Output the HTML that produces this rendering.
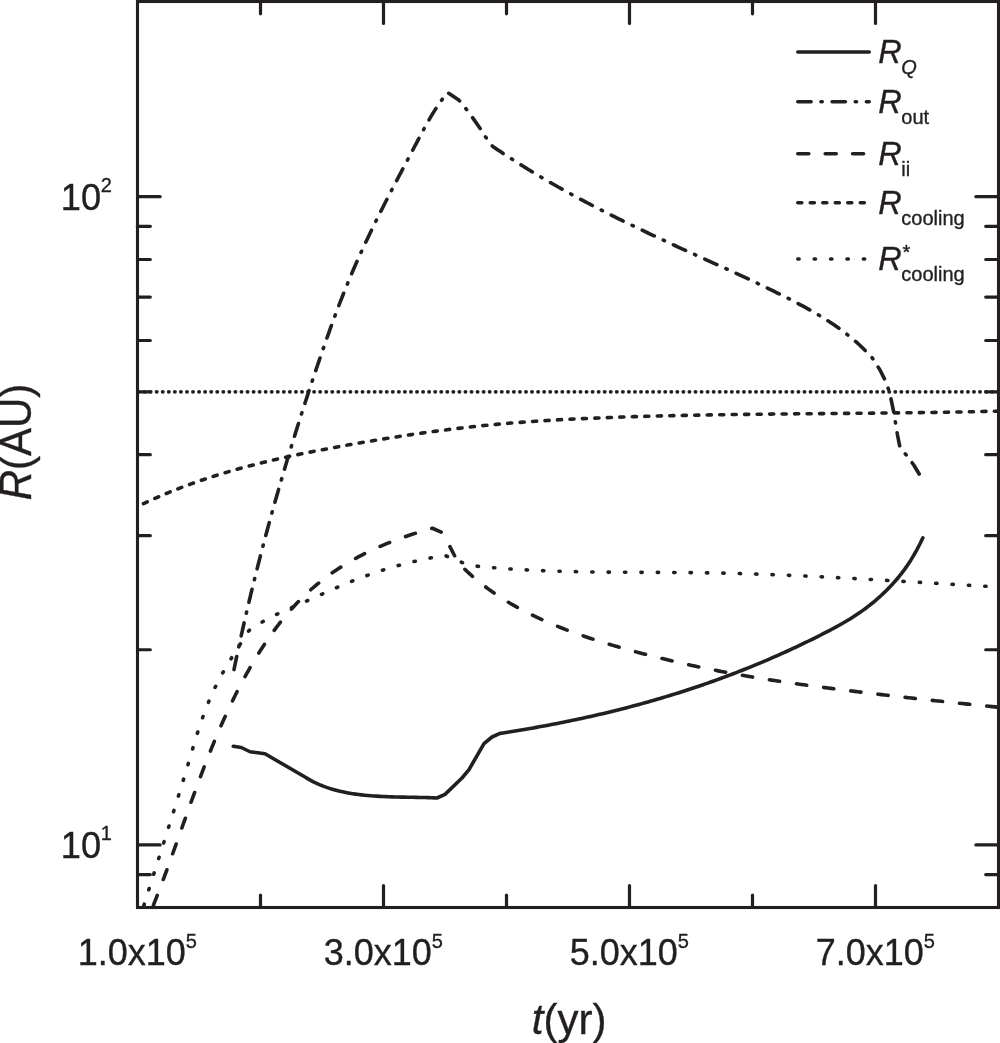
<!DOCTYPE html>
<html><head><meta charset="utf-8"><title>R(AU) vs t(yr)</title>
<style>
html,body{margin:0;padding:0;background:#fff;}
body{width:1000px;height:1043px;overflow:hidden;}
svg{display:block;}
text{font-family:"Liberation Sans",sans-serif;fill:#231f20;stroke:#231f20;stroke-width:0.35px;stroke-linejoin:round;}
.it{font-style:italic;}
.c{fill:none;stroke:#231f20;stroke-width:3.6;stroke-linecap:round;stroke-linejoin:round;}
.ax{fill:none;stroke:#231f20;stroke-width:3.2;stroke-linecap:round;}
.fr{fill:none;stroke:#231f20;stroke-width:3.1;stroke-linejoin:miter;}
</style></head><body>
<svg width="1000" height="1043" viewBox="0 0 1000 1043">
<rect x="0" y="0" width="1000" height="1043" fill="#fff"/>
<defs><clipPath id="cp"><rect x="137.5" y="1.5" width="861.0" height="906.0"/></clipPath></defs>

<g class="ax">
<line x1="260.5" y1="907.5" x2="260.5" y2="895.2"/>
<line x1="260.5" y1="1.5" x2="260.5" y2="13.8"/>
<line x1="383.5" y1="907.5" x2="383.5" y2="885.5"/>
<line x1="383.5" y1="1.5" x2="383.5" y2="23.5"/>
<line x1="506.5" y1="907.5" x2="506.5" y2="895.2"/>
<line x1="506.5" y1="1.5" x2="506.5" y2="13.8"/>
<line x1="629.5" y1="907.5" x2="629.5" y2="885.5"/>
<line x1="629.5" y1="1.5" x2="629.5" y2="23.5"/>
<line x1="752.5" y1="907.5" x2="752.5" y2="895.2"/>
<line x1="752.5" y1="1.5" x2="752.5" y2="13.8"/>
<line x1="875.5" y1="907.5" x2="875.5" y2="885.5"/>
<line x1="875.5" y1="1.5" x2="875.5" y2="23.5"/>
<line x1="137.5" y1="874.56" x2="150.3" y2="874.56"/>
<line x1="998.5" y1="874.56" x2="985.7" y2="874.56"/>
<line x1="137.5" y1="844.90" x2="160.1" y2="844.90"/>
<line x1="998.5" y1="844.90" x2="975.9" y2="844.90"/>
<line x1="137.5" y1="649.77" x2="150.3" y2="649.77"/>
<line x1="998.5" y1="649.77" x2="985.7" y2="649.77"/>
<line x1="137.5" y1="535.63" x2="150.3" y2="535.63"/>
<line x1="998.5" y1="535.63" x2="985.7" y2="535.63"/>
<line x1="137.5" y1="454.64" x2="150.3" y2="454.64"/>
<line x1="998.5" y1="454.64" x2="985.7" y2="454.64"/>
<line x1="137.5" y1="391.83" x2="150.3" y2="391.83"/>
<line x1="998.5" y1="391.83" x2="985.7" y2="391.83"/>
<line x1="137.5" y1="340.50" x2="150.3" y2="340.50"/>
<line x1="998.5" y1="340.50" x2="985.7" y2="340.50"/>
<line x1="137.5" y1="297.11" x2="150.3" y2="297.11"/>
<line x1="998.5" y1="297.11" x2="985.7" y2="297.11"/>
<line x1="137.5" y1="259.52" x2="150.3" y2="259.52"/>
<line x1="998.5" y1="259.52" x2="985.7" y2="259.52"/>
<line x1="137.5" y1="226.36" x2="150.3" y2="226.36"/>
<line x1="998.5" y1="226.36" x2="985.7" y2="226.36"/>
<line x1="137.5" y1="196.70" x2="160.1" y2="196.70"/>
<line x1="998.5" y1="196.70" x2="975.9" y2="196.70"/>
</g>
<g clip-path="url(#cp)">
<line class="c" style="stroke-width:3.9" x1="137.5" y1="391.83" x2="998.5" y2="391.83" stroke-dasharray="0.1 5.954" stroke-dashoffset="-0.99"/>
<polyline class="c" points="137.99,506.30 140.75,504.96 143.51,503.64 146.28,502.33 149.05,501.05 151.82,499.79 154.60,498.54 157.38,497.31 160.17,496.10 162.95,494.91 165.75,493.73 168.54,492.58 171.34,491.44 174.15,490.31 176.96,489.21 179.77,488.12 182.58,487.04 185.40,485.98 188.22,484.94 191.05,483.91 193.88,482.90 196.71,481.90 199.54,480.92 202.38,479.95 205.22,479.00 208.07,478.06 210.91,477.13 213.76,476.22 216.62,475.32 219.48,474.44 222.33,473.56 225.20,472.71 228.06,471.86 230.93,471.02 233.80,470.20 236.68,469.39 239.55,468.59 242.43,467.80 245.31,467.03 248.20,466.26 251.08,465.50 253.97,464.76 256.86,464.03 259.76,463.30 262.65,462.59 265.55,461.88 268.45,461.18 271.36,460.50 274.26,459.82 277.17,459.15 280.08,458.49 282.99,457.84 285.91,457.19 288.82,456.56 291.74,455.93 294.66,455.30 297.58,454.69 300.50,454.08 303.43,453.48 306.36,452.88 309.28,452.30 312.21,451.71 315.15,451.13 318.08,450.56 321.01,450.00 323.95,449.43 326.89,448.88 329.83,448.33 332.77,447.78 335.71,447.23 338.65,446.69 341.60,446.16 344.54,445.62 347.49,445.09 350.44,444.57 353.39,444.05 356.34,443.53 359.29,443.01 362.24,442.50 365.19,441.99 368.15,441.49 371.10,440.99 374.06,440.49 377.02,440.00 379.98,439.51 382.94,439.03 385.90,438.55 388.86,438.07 391.82,437.60 394.79,437.14 397.75,436.67 400.72,436.22 403.69,435.76 406.65,435.32 409.62,434.87 412.59,434.43 415.56,434.00 418.54,433.57 421.51,433.15 424.48,432.73 427.46,432.32 430.43,431.91 433.41,431.50 436.39,431.11 439.37,430.71 442.35,430.33 445.33,429.95 448.31,429.57 451.29,429.20 454.27,428.83 457.25,428.48 460.24,428.12 463.22,427.78 466.21,427.43 469.20,427.10 472.18,426.77 475.17,426.45 478.16,426.13 481.15,425.82 484.14,425.52 487.13,425.22 490.12,424.93 493.11,424.64 496.11,424.36 499.10,424.09 502.10,423.82 505.09,423.56 508.09,423.31 511.08,423.06 514.08,422.82 517.08,422.58 520.08,422.35 523.07,422.13 526.07,421.91 529.07,421.69 532.08,421.48 535.08,421.28 538.08,421.08 541.08,420.88 544.08,420.69 547.09,420.51 550.09,420.32 553.09,420.15 556.10,419.97 559.11,419.81 562.11,419.64 565.12,419.48 568.12,419.33 571.13,419.17 574.14,419.02 577.15,418.88 580.16,418.74 583.16,418.60 586.17,418.46 589.18,418.33 592.19,418.20 595.20,418.08 598.22,417.96 601.23,417.83 604.24,417.72 607.25,417.60 610.26,417.49 613.27,417.38 616.29,417.27 619.30,417.17 622.31,417.06 625.33,416.96 628.34,416.86 631.36,416.77 634.37,416.67 637.38,416.58 640.40,416.49 643.41,416.40 646.43,416.31 649.45,416.23 652.46,416.15 655.48,416.07 658.49,415.99 661.51,415.91 664.53,415.84 667.54,415.76 670.56,415.69 673.58,415.62 676.59,415.55 679.61,415.49 682.63,415.42 685.64,415.36 688.66,415.30 691.68,415.24 694.70,415.18 697.71,415.12 700.73,415.06 703.75,415.01 706.77,414.96 709.78,414.90 712.80,414.85 715.82,414.80 718.83,414.76 721.85,414.71 724.87,414.66 727.89,414.62 730.90,414.57 733.92,414.53 736.94,414.49 739.95,414.45 742.97,414.41 745.99,414.37 749.00,414.33 752.02,414.30 755.04,414.26 758.05,414.23 761.07,414.19 764.09,414.16 767.10,414.12 770.12,414.09 773.13,414.06 776.15,414.03 779.16,414.00 782.18,413.97 785.19,413.94 788.21,413.91 791.22,413.88 794.23,413.85 797.25,413.82 800.26,413.80 803.27,413.77 806.28,413.74 809.30,413.72 812.31,413.69 815.32,413.66 818.33,413.64 821.34,413.61 824.35,413.58 827.36,413.56 830.37,413.53 833.38,413.51 836.39,413.48 839.40,413.45 842.41,413.43 845.41,413.40 848.42,413.38 851.43,413.35 854.43,413.32 857.44,413.29 860.44,413.27 863.45,413.24 866.45,413.21 869.46,413.18 872.46,413.15 875.46,413.12 878.47,413.09 881.47,413.06 884.47,413.03 887.47,413.00 890.47,412.97 893.47,412.93 896.47,412.90 899.46,412.87 902.46,412.83 905.46,412.79 908.46,412.76 911.45,412.72 914.45,412.68 917.44,412.64 920.43,412.60 923.43,412.56 926.42,412.52 929.41,412.47 932.40,412.43 935.39,412.38 938.38,412.33 941.37,412.29 944.36,412.24 947.34,412.19 950.33,412.13 953.32,412.08 956.30,412.03 959.28,411.97 962.27,411.91 965.25,411.85 968.23,411.79 971.21,411.73 974.19,411.67 977.17,411.60 980.15,411.54 983.13,411.47 986.10,411.40 989.08,411.33 992.05,411.25 995.03,411.18 998.00,411.10" stroke-dasharray="4.1 8.385" stroke-dashoffset="-6.14"/>
<polyline class="c" points="143.20,907.50 144.08,904.69 144.96,901.88 145.85,899.06 146.74,896.24 147.63,893.41 148.53,890.57 149.43,887.73 150.33,884.89 151.24,882.04 152.14,879.19 153.05,876.33 153.96,873.47 154.87,870.60 155.79,867.73 156.70,864.86 157.62,861.98 158.53,859.11 159.45,856.22 160.37,853.34 161.29,850.45 162.21,847.57 163.13,844.67 164.05,841.78 164.97,838.89 165.89,835.99 166.80,833.09 167.72,830.19 168.64,827.29 169.56,824.39 170.47,821.49 171.38,818.59 172.30,815.69 173.21,812.79 174.11,809.89 175.02,806.99 175.93,804.08 176.83,801.18 177.73,798.29 178.62,795.39 179.52,792.49 180.41,789.60 181.30,786.70 182.18,783.81 183.06,780.92 183.94,778.04 184.81,775.15 185.68,772.27 186.55,769.39 187.41,766.51 188.27,763.64 189.12,760.77 189.97,757.91 190.81,755.04 191.66,752.18 192.51,749.33 193.36,746.48 194.21,743.64 195.07,740.80 195.94,737.96 196.82,735.13 197.71,732.30 198.62,729.48 199.53,726.67 200.47,723.86 201.42,721.06 202.39,718.26 203.38,715.48 204.40,712.69 205.43,709.92 206.50,707.15 207.59,704.39 208.71,701.63 209.86,698.89 211.05,696.15 212.27,693.42 213.52,690.69 214.81,687.98 216.14,685.27 217.51,682.57 218.91,679.89 220.35,677.21 221.81,674.54 223.30,671.88 224.82,669.23 226.35,666.58 227.91,663.95 229.49,661.33 231.07,658.72 232.68,656.12 234.29,653.53 235.90,650.96 237.53,648.39 239.15,645.83 240.78,643.29 242.40,640.76 244.01,638.24 245.62,635.73 247.22,633.23 248.80,630.75 251.39,628.87 253.99,627.07 256.59,625.36 259.20,623.72 261.82,622.16 264.45,620.66 267.08,619.22 269.72,617.82 272.37,616.47 275.02,615.16 277.68,613.88 280.35,612.63 283.02,611.40 285.70,610.18 288.39,608.98 291.08,607.79 293.78,606.60 296.49,605.42 299.20,604.24 301.92,603.06 304.65,601.87 307.38,600.68 310.12,599.47 312.86,598.25 315.61,597.02 318.37,595.79 321.13,594.55 323.90,593.31 326.68,592.07 329.46,590.84 332.25,589.60 335.04,588.38 337.84,587.16 340.64,585.95 343.45,584.76 346.27,583.57 349.09,582.41 351.91,581.26 354.74,580.13 357.58,579.03 360.42,577.94 363.27,576.87 366.13,575.83 368.98,574.80 371.85,573.79 374.72,572.81 377.59,571.84 380.47,570.90 383.36,569.97 386.24,569.07 389.14,568.19 392.04,567.32 394.94,566.48 397.85,565.66 400.76,564.87 403.68,564.09 406.60,563.33 409.53,562.60 412.46,561.89 415.40,561.20 418.34,560.53 421.29,559.88 424.23,559.26 427.19,558.65 430.15,558.07 433.11,557.51 436.08,556.98 439.05,556.46 442.02,555.97 445.00,555.50 462.00,562.50 477.50,566.25 480.50,566.55 483.51,566.83 486.51,567.11 489.52,567.37 492.52,567.63 495.53,567.88 498.53,568.11 501.54,568.34 504.54,568.56 507.55,568.77 510.55,568.98 513.56,569.17 516.57,569.36 519.57,569.54 522.58,569.71 525.59,569.87 528.59,570.03 531.60,570.18 534.61,570.32 537.61,570.45 540.62,570.58 543.63,570.71 546.63,570.82 549.64,570.93 552.65,571.04 555.66,571.14 558.67,571.23 561.67,571.32 564.68,571.40 567.69,571.48 570.70,571.55 573.71,571.62 576.72,571.68 579.72,571.74 582.73,571.80 585.74,571.85 588.75,571.90 591.76,571.94 594.77,571.99 597.78,572.02 600.79,572.06 603.80,572.09 606.81,572.12 609.82,572.15 612.83,572.17 615.84,572.20 618.84,572.22 621.85,572.24 624.86,572.26 627.87,572.27 630.88,572.29 633.89,572.30 636.91,572.32 639.92,572.33 642.93,572.34 645.94,572.36 648.95,572.37 651.96,572.38 654.97,572.39 657.98,572.41 660.99,572.42 664.00,572.43 667.01,572.45 670.02,572.47 673.03,572.49 676.04,572.51 679.05,572.53 682.06,572.55 685.08,572.58 688.09,572.60 691.10,572.63 694.11,572.67 697.12,572.70 700.13,572.74 703.14,572.78 706.15,572.83 709.16,572.88 712.18,572.93 715.19,572.99 718.20,573.04 721.21,573.11 724.22,573.17 727.23,573.24 730.24,573.31 733.25,573.39 736.27,573.47 739.28,573.55 742.29,573.64 745.30,573.72 748.31,573.82 751.32,573.91 754.33,574.01 757.34,574.11 760.35,574.21 763.37,574.31 766.38,574.42 769.39,574.53 772.40,574.65 775.41,574.76 778.42,574.88 781.43,575.00 784.44,575.12 787.45,575.25 790.46,575.38 793.48,575.51 796.49,575.64 799.50,575.77 802.51,575.91 805.52,576.05 808.53,576.19 811.54,576.33 814.55,576.47 817.56,576.62 820.57,576.77 823.58,576.92 826.59,577.07 829.60,577.22 832.61,577.38 835.62,577.53 838.63,577.69 841.64,577.85 844.65,578.01 847.66,578.17 850.67,578.34 853.68,578.50 856.69,578.67 859.70,578.84 862.71,579.00 865.72,579.17 868.73,579.34 871.73,579.52 874.74,579.69 877.75,579.86 880.76,580.04 883.77,580.21 886.78,580.39 889.79,580.56 892.79,580.74 895.80,580.92 898.81,581.10 901.82,581.28 904.83,581.46 907.83,581.64 910.84,581.82 913.85,582.00 916.86,582.18 919.86,582.36 922.87,582.54 925.88,582.72 928.88,582.90 931.89,583.09 934.90,583.27 937.90,583.45 940.91,583.63 943.92,583.81 946.92,583.99 949.93,584.18 952.93,584.36 955.94,584.54 958.94,584.72 961.95,584.90 964.96,585.08 967.96,585.25 970.96,585.43 973.97,585.61 976.97,585.79 979.98,585.96 982.98,586.14 985.99,586.31 988.99,586.49 991.99,586.66 995.00,586.83 998.00,587.00" stroke-dasharray="1.3 15.09" stroke-dashoffset="-2.17"/>
<polyline class="c" points="152.50,907.50 153.61,904.71 154.71,901.92 155.81,899.12 156.90,896.32 157.98,893.52 159.05,890.72 160.12,887.91 161.18,885.10 162.24,882.29 163.29,879.48 164.34,876.66 165.38,873.85 166.42,871.03 167.45,868.21 168.48,865.38 169.51,862.56 170.53,859.73 171.55,856.91 172.57,854.08 173.58,851.25 174.60,848.42 175.61,845.59 176.61,842.76 177.62,839.93 178.63,837.09 179.64,834.26 180.64,831.43 181.65,828.59 182.65,825.76 183.66,822.93 184.67,820.10 185.68,817.26 186.68,814.43 187.70,811.60 188.71,808.77 189.72,805.94 190.74,803.11 191.76,800.29 192.79,797.46 193.81,794.63 194.85,791.81 195.88,788.99 196.92,786.17 197.96,783.35 199.01,780.53 200.07,777.72 201.13,774.91 202.19,772.10 203.26,769.29 204.34,766.48 205.42,763.68 206.51,760.88 207.61,758.08 208.72,755.29 209.83,752.50 210.95,749.71 212.08,746.93 213.22,744.14 214.37,741.37 215.52,738.59 216.69,735.82 217.86,733.06 219.05,730.29 220.25,727.54 221.45,724.78 222.67,722.03 223.90,719.29 225.14,716.55 226.39,713.81 227.66,711.08 228.93,708.36 230.22,705.64 231.53,702.92 232.84,700.21 234.17,697.50 235.51,694.81 236.87,692.11 238.24,689.42 239.63,686.74 241.03,684.07 242.45,681.40 243.88,678.73 245.33,676.08 246.79,673.43 248.28,670.78 249.77,668.15 251.29,665.52 252.82,662.91 254.37,660.30 255.94,657.71 257.52,655.12 259.13,652.55 260.75,649.99 262.39,647.45 264.05,644.92 265.73,642.40 267.43,639.90 269.14,637.42 270.88,634.95 272.64,632.51 274.42,630.08 276.22,627.67 278.04,625.28 279.88,622.91 281.75,620.56 283.63,618.23 285.54,615.93 287.47,613.65 289.42,611.39 291.40,609.15 293.40,606.94 295.42,604.76 297.47,602.60 299.54,600.46 301.63,598.36 303.75,596.28 305.89,594.22 308.06,592.20 310.25,590.20 312.47,588.23 314.72,586.29 316.99,584.38 319.28,582.50 321.61,580.65 323.96,578.83 326.33,577.05 328.73,575.29 331.15,573.56 333.60,571.86 336.07,570.19 338.56,568.55 341.08,566.94 343.61,565.36 346.17,563.81 348.75,562.28 351.35,560.78 353.96,559.31 356.59,557.87 359.25,556.45 361.92,555.06 364.60,553.70 367.30,552.36 370.02,551.05 372.75,549.76 375.50,548.50 378.26,547.27 381.03,546.06 383.81,544.87 386.61,543.71 389.42,542.57 392.24,541.46 395.07,540.37 397.91,539.31 400.76,538.26 403.61,537.25 406.48,536.25 409.35,535.27 412.22,534.32 415.11,533.39 418.00,532.48 420.89,531.60 423.79,530.73 426.69,529.88 429.60,529.06 432.50,528.25 442.00,532.50 449.50,545.75 455.50,557.50 463.00,567.50 465.21,569.65 467.45,571.76 469.71,573.83 471.99,575.86 474.29,577.85 476.61,579.81 478.94,581.73 481.30,583.62 483.67,585.47 486.06,587.28 488.47,589.07 490.89,590.82 493.33,592.53 495.79,594.22 498.26,595.87 500.75,597.50 503.26,599.09 505.78,600.66 508.31,602.19 510.87,603.70 513.43,605.18 516.01,606.64 518.60,608.07 521.21,609.48 523.83,610.86 526.46,612.22 529.11,613.55 531.77,614.86 534.44,616.15 537.12,617.42 539.82,618.67 542.52,619.90 545.24,621.11 547.97,622.30 550.70,623.48 553.45,624.63 556.21,625.77 558.97,626.89 561.75,627.99 564.54,629.08 567.33,630.15 570.13,631.20 572.94,632.24 575.76,633.27 578.58,634.28 581.42,635.27 584.26,636.25 587.10,637.22 589.95,638.17 592.81,639.11 595.68,640.04 598.54,640.95 601.42,641.86 604.30,642.75 607.18,643.63 610.07,644.50 612.96,645.36 615.86,646.20 618.75,647.04 621.66,647.87 624.56,648.69 627.47,649.50 630.38,650.30 633.29,651.10 636.20,651.88 639.11,652.66 642.03,653.43 644.95,654.20 647.87,654.95 650.78,655.70 653.71,656.44 656.63,657.18 659.55,657.90 662.48,658.62 665.40,659.33 668.33,660.04 671.26,660.73 674.19,661.42 677.12,662.10 680.05,662.78 682.99,663.44 685.92,664.10 688.86,664.75 691.79,665.40 694.73,666.04 697.67,666.67 700.61,667.29 703.56,667.90 706.50,668.51 709.44,669.11 712.39,669.71 715.33,670.29 718.28,670.87 721.23,671.44 724.18,672.01 727.13,672.57 730.08,673.12 733.03,673.66 735.98,674.20 738.94,674.72 741.89,675.25 744.85,675.76 747.81,676.27 750.76,676.77 753.72,677.27 756.68,677.75 759.64,678.24 762.60,678.71 765.57,679.18 768.53,679.65 771.49,680.10 774.46,680.56 777.42,681.00 780.39,681.45 783.35,681.89 786.32,682.32 789.29,682.75 792.26,683.17 795.23,683.59 798.20,684.01 801.17,684.42 804.14,684.83 807.11,685.24 810.08,685.64 813.06,686.04 816.03,686.43 819.01,686.83 821.98,687.22 824.96,687.60 827.93,687.99 830.91,688.37 833.89,688.76 836.86,689.14 839.84,689.51 842.82,689.89 845.80,690.26 848.78,690.64 851.76,691.01 854.74,691.37 857.72,691.74 860.70,692.11 863.68,692.47 866.66,692.83 869.65,693.19 872.63,693.55 875.61,693.90 878.59,694.26 881.58,694.61 884.56,694.96 887.55,695.31 890.53,695.66 893.51,696.00 896.50,696.35 899.48,696.69 902.47,697.03 905.45,697.37 908.44,697.71 911.42,698.05 914.41,698.38 917.39,698.71 920.38,699.05 923.37,699.38 926.35,699.70 929.34,700.03 932.32,700.36 935.31,700.68 938.30,701.01 941.28,701.33 944.27,701.65 947.25,701.97 950.24,702.28 953.23,702.60 956.21,702.92 959.20,703.23 962.18,703.54 965.17,703.85 968.15,704.16 971.14,704.47 974.13,704.78 977.11,705.09 980.09,705.39 983.08,705.70 986.06,706.00 989.05,706.30 992.03,706.60 995.02,706.90 998.00,707.20" stroke-dasharray="10.3 17.066" stroke-dashoffset="-2.68"/>
<polyline class="c" points="233.80,670.50 234.41,667.56 235.01,664.62 235.63,661.68 236.24,658.74 236.87,655.80 237.49,652.86 238.12,649.92 238.76,646.98 239.39,644.05 240.04,641.11 240.68,638.17 241.33,635.23 241.99,632.30 242.64,629.36 243.31,626.43 243.97,623.49 244.64,620.56 245.31,617.62 245.99,614.69 246.67,611.76 247.36,608.83 248.05,605.90 248.74,602.96 249.44,600.03 250.14,597.10 250.84,594.18 251.55,591.25 252.27,588.32 252.98,585.39 253.70,582.47 254.43,579.54 255.15,576.61 255.88,573.69 256.62,570.77 257.36,567.84 258.10,564.92 258.85,562.00 259.59,559.08 260.35,556.16 261.10,553.24 261.86,550.32 262.63,547.40 263.40,544.49 264.17,541.57 264.94,538.66 265.72,535.74 266.50,532.83 267.29,529.91 268.08,527.00 268.87,524.09 269.66,521.18 270.46,518.27 271.26,515.37 272.07,512.46 272.88,509.55 273.69,506.65 274.51,503.74 275.33,500.84 276.15,497.94 276.98,495.04 277.81,492.14 278.64,489.24 279.47,486.34 280.31,483.44 281.16,480.55 282.00,477.65 282.85,474.76 283.70,471.87 284.56,468.98 285.42,466.09 286.28,463.20 287.14,460.31 288.01,457.42 288.88,454.54 289.76,451.65 290.63,448.77 291.51,445.89 292.40,443.01 293.28,440.13 294.17,437.25 295.07,434.37 295.96,431.50 296.86,428.62 297.76,425.75 298.67,422.88 299.57,420.01 300.49,417.14 301.40,414.27 302.32,411.41 303.23,408.54 304.16,405.68 305.08,402.82 306.01,399.96 306.94,397.10 307.87,394.24 308.81,391.39 309.75,388.53 310.69,385.68 311.64,382.83 312.58,379.98 313.53,377.13 314.49,374.28 315.44,371.43 316.40,368.59 317.36,365.75 318.32,362.91 319.29,360.07 320.26,357.23 321.23,354.40 322.21,351.56 323.19,348.73 324.17,345.90 325.16,343.07 326.15,340.24 327.15,337.42 328.15,334.59 329.16,331.77 330.17,328.95 331.19,326.13 332.22,323.32 333.25,320.50 334.28,317.69 335.33,314.88 336.38,312.08 337.44,309.27 338.50,306.47 339.57,303.67 340.65,300.87 341.74,298.07 342.84,295.28 343.95,292.48 345.06,289.69 346.18,286.91 347.32,284.12 348.46,281.34 349.61,278.56 350.78,275.78 351.95,273.00 353.13,270.23 354.33,267.46 355.53,264.69 356.75,261.93 357.98,259.16 359.21,256.40 360.46,253.64 361.72,250.89 362.99,248.14 364.26,245.39 365.55,242.64 366.84,239.90 368.15,237.16 369.46,234.42 370.77,231.68 372.10,228.95 373.43,226.22 374.77,223.49 376.11,220.77 377.46,218.05 378.82,215.33 380.18,212.62 381.55,209.91 382.92,207.20 384.29,204.49 385.67,201.79 387.05,199.09 388.44,196.40 389.82,193.71 391.21,191.02 392.61,188.33 394.00,185.65 395.40,182.97 396.80,180.30 398.20,177.63 399.60,174.96 401.00,172.30 402.40,169.64 403.80,166.99 405.19,164.34 406.59,161.69 407.99,159.05 409.39,156.41 410.78,153.78 412.17,151.15 413.56,148.52 414.95,145.90 416.33,143.29 417.71,140.68 419.09,138.07 420.46,135.47 421.84,132.88 423.23,130.29 424.64,127.71 426.05,125.13 427.49,122.57 428.94,120.01 430.43,117.46 431.94,114.91 433.49,112.38 435.07,109.86 436.70,107.34 438.36,104.84 440.08,102.35 441.85,99.87 443.67,97.40 445.55,94.94 447.50,92.50 458.75,100.00 465.00,107.50 472.50,117.50 480.00,128.25 485.00,136.25 492.50,146.25 495.00,147.96 497.50,149.65 500.01,151.34 502.52,153.01 505.04,154.68 507.57,156.33 510.10,157.97 512.63,159.61 515.17,161.23 517.72,162.85 520.27,164.45 522.82,166.05 525.38,167.63 527.95,169.21 530.52,170.78 533.09,172.34 535.67,173.89 538.25,175.43 540.84,176.96 543.43,178.49 546.02,180.01 548.62,181.52 551.23,183.02 553.84,184.51 556.45,185.99 559.07,187.47 561.69,188.94 564.31,190.41 566.94,191.86 569.58,193.31 572.21,194.75 574.86,196.18 577.50,197.61 580.15,199.03 582.80,200.45 585.46,201.86 588.12,203.26 590.78,204.65 593.45,206.04 596.12,207.42 598.79,208.80 601.47,210.17 604.15,211.54 606.84,212.90 609.52,214.26 612.21,215.61 614.91,216.95 617.60,218.29 620.30,219.63 623.01,220.96 625.71,222.29 628.42,223.61 631.13,224.93 633.85,226.24 636.56,227.55 639.28,228.85 642.01,230.15 644.73,231.45 647.46,232.75 650.19,234.04 652.92,235.32 655.66,236.61 658.40,237.89 661.14,239.16 663.88,240.44 666.62,241.71 669.37,242.98 672.12,244.25 674.87,245.51 677.62,246.77 680.38,248.03 683.14,249.29 685.90,250.55 688.66,251.80 691.42,253.06 694.18,254.31 696.95,255.56 699.71,256.81 702.47,258.06 705.24,259.31 708.00,260.56 710.77,261.81 713.53,263.06 716.30,264.32 719.06,265.57 721.82,266.82 724.58,268.08 727.34,269.34 730.10,270.60 732.85,271.86 735.61,273.12 738.36,274.39 741.11,275.66 743.85,276.93 746.59,278.21 749.33,279.49 752.07,280.77 754.80,282.06 757.53,283.35 760.25,284.64 762.97,285.94 765.69,287.25 768.40,288.56 771.10,289.88 773.80,291.20 776.50,292.52 779.19,293.86 781.87,295.20 784.55,296.54 787.22,297.90 789.88,299.26 792.54,300.63 795.19,302.00 797.83,303.39 800.47,304.79 803.09,306.20 805.70,307.62 808.31,309.06 810.90,310.52 813.48,311.99 816.05,313.49 818.61,315.00 821.15,316.53 823.68,318.09 826.20,319.67 828.69,321.28 831.18,322.91 833.65,324.57 836.10,326.26 838.53,327.98 840.94,329.73 843.34,331.51 845.71,333.33 848.07,335.18 850.41,337.07 852.72,339.00 855.01,340.97 857.28,342.97 859.53,345.02 861.76,347.11 863.96,349.25 866.13,351.43 868.28,353.65 870.40,355.93 872.50,358.25 880.00,370.00 885.00,380.00 889.25,391.25 891.75,402.50 893.75,412.50 895.75,424.25 897.50,435.00 900.00,447.50 906.25,455.00 913.75,465.00 921.30,477.60" stroke-dasharray="13.3 9.93 1.3 9.93" stroke-dashoffset="-0.94"/>
<polyline class="c" points="233.25,746.25 241.25,747.50 250.00,751.75 265.00,753.75 280.00,762.50 305.00,777.00 307.61,778.61 310.25,780.12 312.92,781.55 315.61,782.88 318.34,784.13 321.08,785.30 323.86,786.39 326.65,787.40 329.47,788.34 332.31,789.22 335.16,790.02 338.04,790.77 340.94,791.45 343.85,792.08 346.78,792.66 349.72,793.19 352.68,793.67 355.65,794.10 358.64,794.50 361.63,794.86 364.63,795.18 367.65,795.47 370.67,795.73 373.69,795.96 376.73,796.16 379.76,796.34 382.80,796.50 385.85,796.63 388.89,796.75 391.94,796.85 394.98,796.94 398.03,797.02 401.07,797.09 404.11,797.15 407.14,797.20 410.17,797.26 413.19,797.31 416.20,797.37 419.21,797.43 422.20,797.49 425.19,797.57 428.16,797.66 431.12,797.75 434.07,797.87 437.00,798.00 445.00,794.40 462.00,778.00 469.00,769.60 484.00,743.60 492.00,737.00 500.00,733.39 503.02,732.93 506.04,732.45 509.06,731.98 512.08,731.49 515.10,731.00 518.12,730.50 521.14,730.00 524.17,729.49 527.19,728.97 530.21,728.45 533.23,727.92 536.25,727.38 539.27,726.83 542.29,726.28 545.31,725.72 548.33,725.16 551.35,724.58 554.37,724.00 557.39,723.41 560.41,722.82 563.43,722.22 566.46,721.60 569.48,720.99 572.50,720.36 575.52,719.73 578.54,719.08 581.56,718.43 584.58,717.77 587.60,717.11 590.62,716.43 593.64,715.75 596.66,715.06 599.68,714.36 602.70,713.65 605.73,712.93 608.75,712.20 611.77,711.47 614.79,710.73 617.81,709.97 620.83,709.21 623.85,708.44 626.87,707.66 629.89,706.87 632.91,706.07 635.93,705.27 638.95,704.45 641.97,703.62 644.99,702.78 648.01,701.94 651.04,701.08 654.06,700.22 657.08,699.34 660.10,698.46 663.12,697.56 666.14,696.65 669.16,695.74 672.18,694.81 675.20,693.87 678.22,692.93 681.24,691.97 684.26,691.00 687.28,690.02 690.30,689.03 693.33,688.03 696.35,687.02 699.37,686.00 702.39,684.96 705.41,683.92 708.43,682.86 711.45,681.80 714.47,680.72 717.49,679.63 720.51,678.53 723.53,677.41 726.55,676.29 729.57,675.15 732.60,674.01 735.62,672.85 738.64,671.67 741.66,670.49 744.68,669.29 747.70,668.09 750.72,666.87 753.74,665.63 756.76,664.39 759.78,663.13 762.80,661.86 765.82,660.58 768.84,659.28 771.86,657.97 774.88,656.65 777.91,655.32 780.93,653.97 783.95,652.61 786.97,651.24 789.99,649.85 793.01,648.45 796.03,647.04 799.05,645.61 802.07,644.17 805.09,642.72 808.11,641.25 811.13,639.77 814.15,638.28 817.17,636.77 820.20,635.25 823.22,633.71 826.24,632.16 829.26,630.59 832.28,629.00 835.30,627.38 838.32,625.73 841.34,624.04 844.36,622.31 847.38,620.53 850.40,618.68 853.42,616.78 856.44,614.81 859.46,612.77 862.49,610.65 865.51,608.45 868.53,606.16 871.55,603.77 874.57,601.28 877.59,598.68 880.61,595.98 883.63,593.15 886.65,590.20 889.67,587.13 892.69,583.91 895.71,580.53 898.73,576.97 901.75,573.17 904.78,569.13 907.80,564.79 910.82,560.15 913.84,555.16 916.86,549.79 919.88,544.02 922.90,537.81"/>
</g>
<rect class="fr" x="137.5" y="1.5" width="861.0" height="906.0"/>
<line class="c" x1="797.8" y1="52" x2="869.2" y2="52"/>
<line class="c" x1="797.8" y1="101.8" x2="869.2" y2="101.8" stroke-dasharray="13.3 9.85 1.3 9.85"/>
<line class="c" x1="797.8" y1="153.8" x2="869.2" y2="153.8" stroke-dasharray="11 16.4"/>
<line class="c" x1="797.8" y1="202.8" x2="869.2" y2="202.8" stroke-dasharray="4 8.5"/>
<line class="c" x1="797.8" y1="259" x2="869.2" y2="259" stroke-dasharray="1.3 15.1"/>
<text x="878.3" y="62.7" font-size="32.5" class="it">R</text><text x="901.3" y="74.4" font-size="20" class="it">Q</text>
<text x="878.3" y="112.5" font-size="32.5" class="it">R</text><text x="901.3" y="124.2" font-size="20">out</text>
<text x="878.3" y="164.5" font-size="32.5" class="it">R</text><text x="901.3" y="176.2" font-size="20">ii</text>
<text x="878.3" y="213.5" font-size="32.5" class="it">R</text><text x="901.3" y="225.2" font-size="20">cooling</text>
<text x="878.3" y="269.7" font-size="32.5" class="it">R</text><text x="901.3" y="281.4" font-size="20">cooling</text><text x="902.5" y="259.3" font-size="20">*</text>
<text x="60.8" y="209.5" font-size="36.2">10</text><text x="100.7" y="191.8" font-size="20">2</text>
<text x="60.8" y="857.7" font-size="36.2">10</text><text x="100.7" y="840.0" font-size="20">1</text>
<text x="77.8" y="965.4" font-size="36">1.0x10</text><text x="185.8" y="948" font-size="20">5</text>
<text x="323.8" y="965.4" font-size="36">3.0x10</text><text x="431.8" y="948" font-size="20">5</text>
<text x="569.8" y="965.4" font-size="36">5.0x10</text><text x="677.8" y="948" font-size="20">5</text>
<text x="815.8" y="965.4" font-size="36">7.0x10</text><text x="923.8" y="948" font-size="20">5</text>
<text x="531.8" y="1034" font-size="42"><tspan class="it">t</tspan>(yr)</text>
<text transform="translate(30.7,500.3) rotate(-90) scale(1,1.05)" font-size="42"><tspan class="it">R</tspan>(AU)</text>
</svg></body></html>
